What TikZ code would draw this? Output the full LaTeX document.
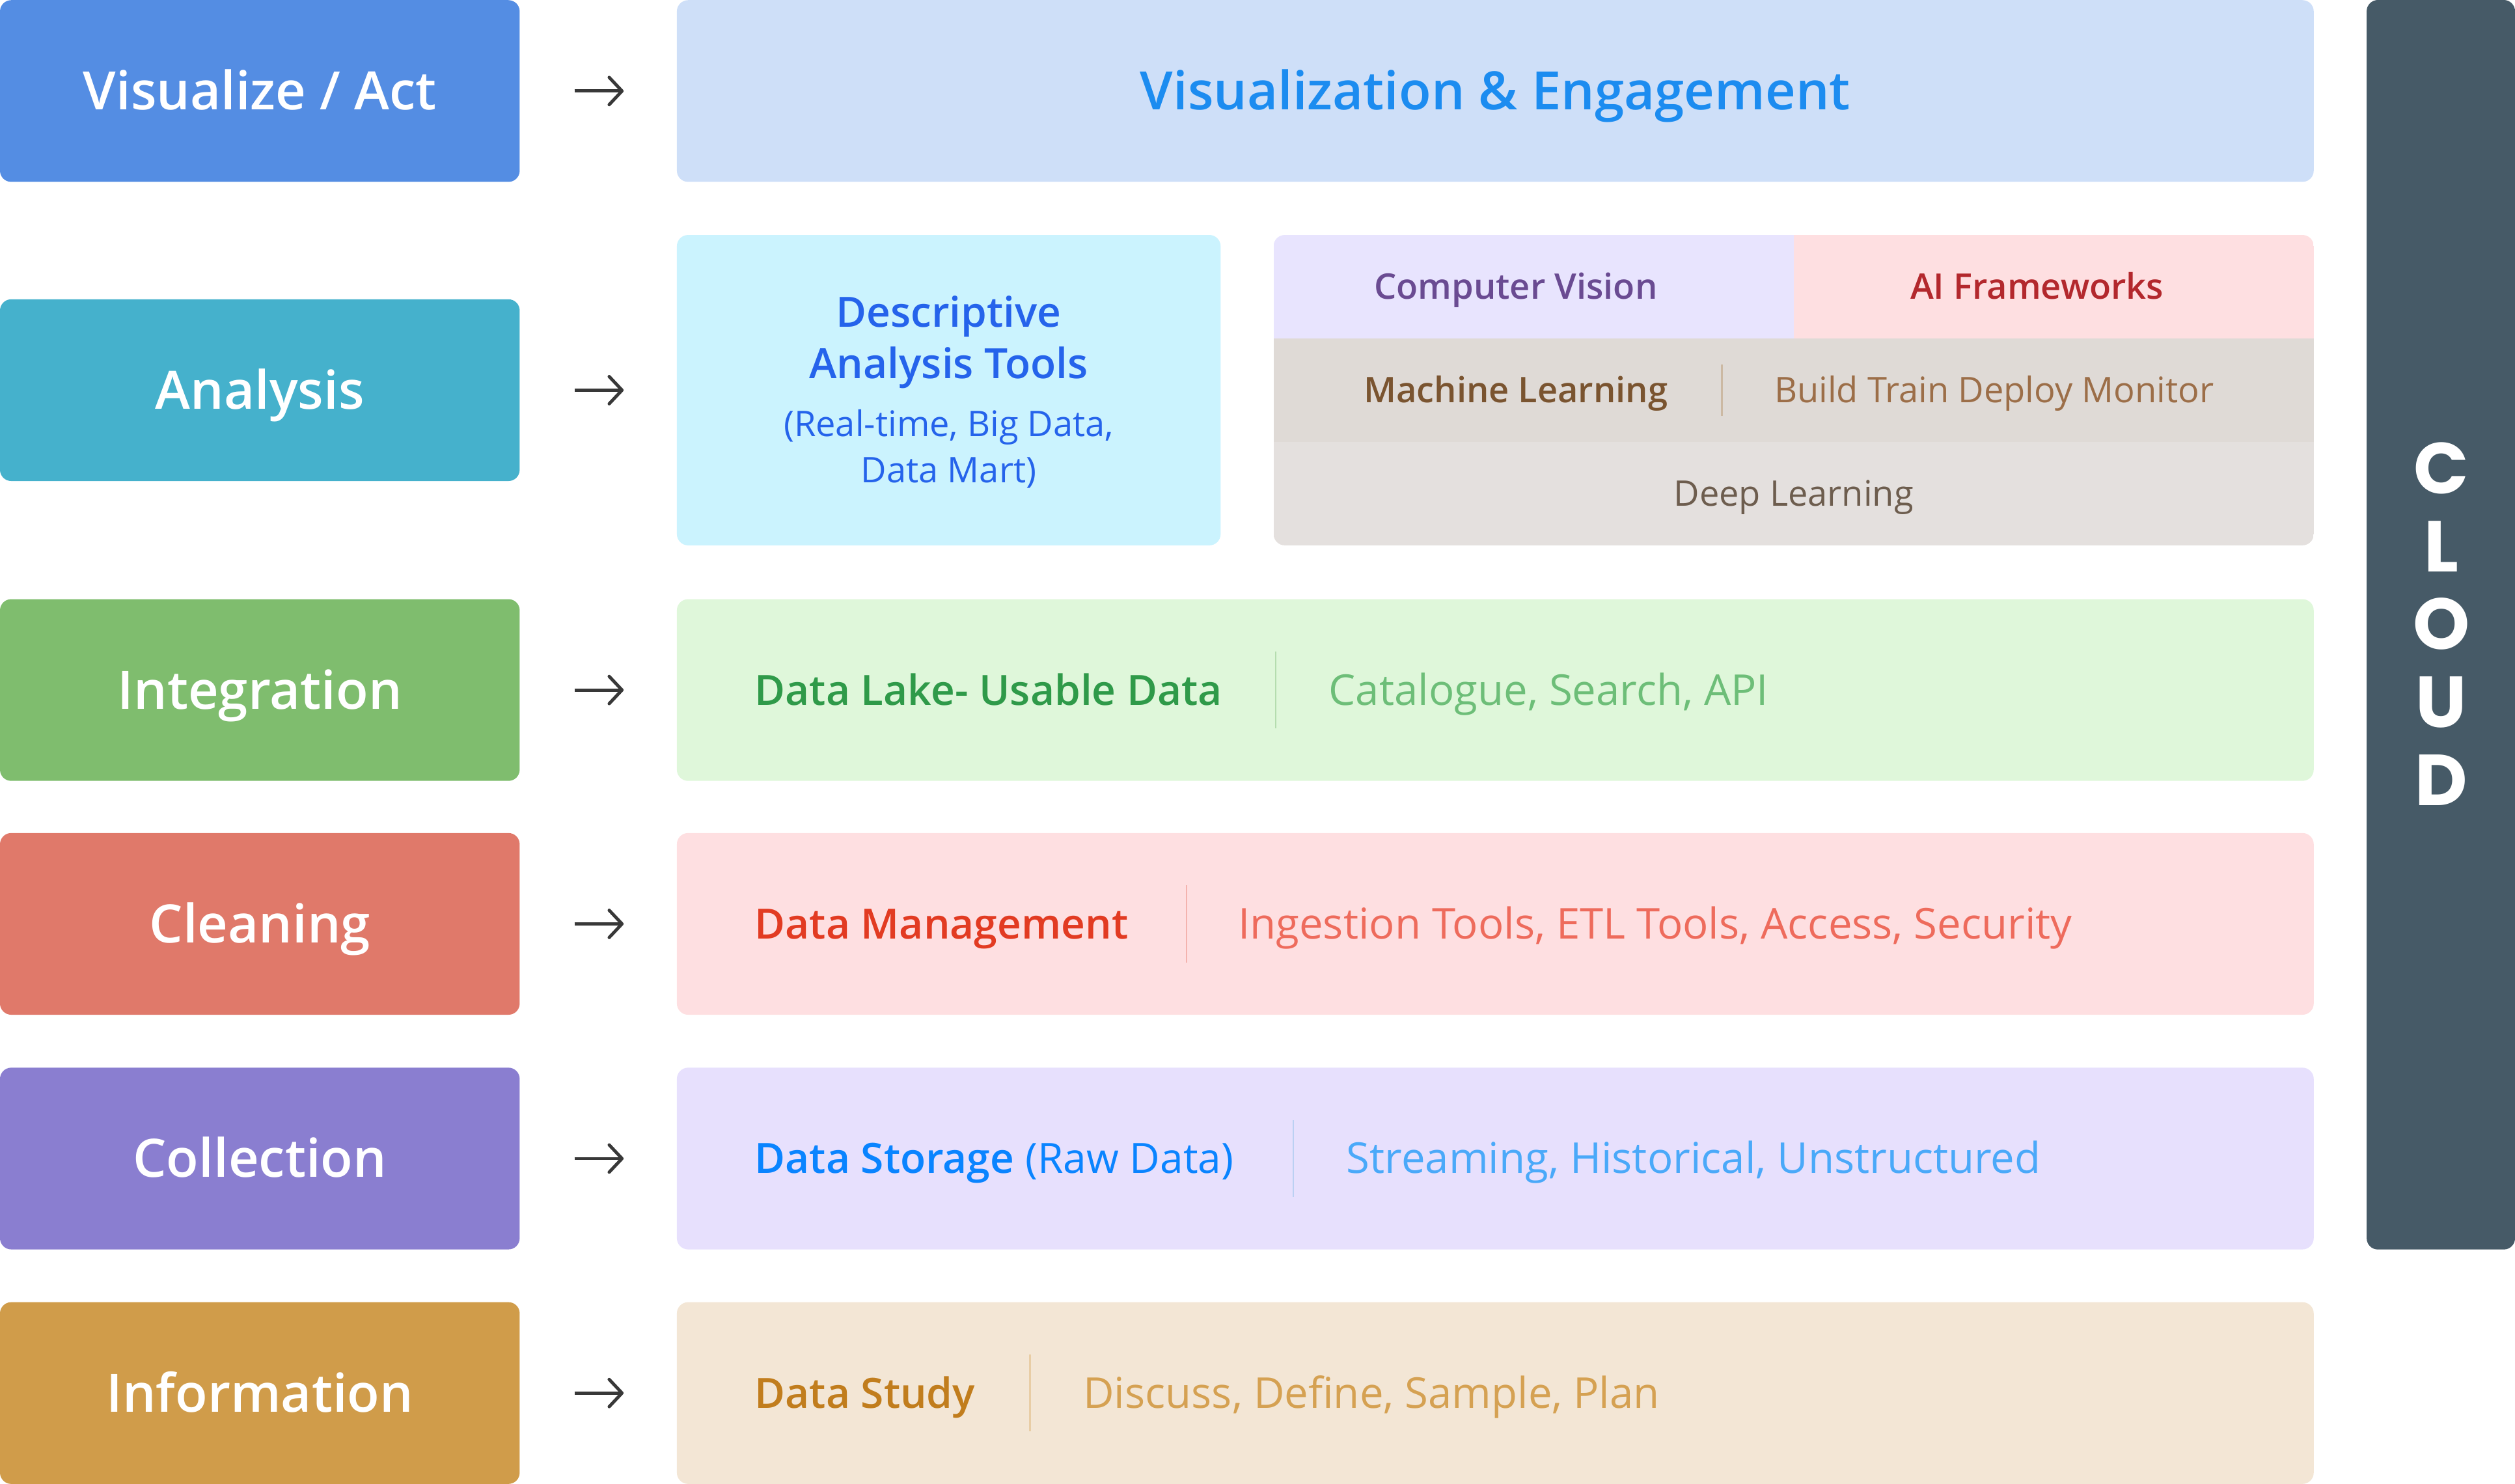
\documentclass[tikz,border=0pt]{standalone}
\usepackage{fontspec}
\IfFontExistsTF{Open Sans Semibold}
  {\setmainfont{Open Sans}[BoldFont={Open Sans Semibold}]}
  {\IfFontExistsTF{OpenSans-SemiBold.ttf}
    {\setmainfont{Open Sans}[BoldFont={OpenSans-SemiBold.ttf}]}
    {\IfFontExistsTF{OpenSans-Semibold.otf}
      {\setmainfont{Open Sans}[BoldFont={OpenSans-Semibold.otf}]}
      {\setmainfont{Open Sans}}}}
\newfontfamily\cloudfont{Poppins}
\usetikzlibrary{arrows.meta,calc}
\definecolor{visC}{HTML}{548DE3}
\definecolor{anaC}{HTML}{45B1CC}
\definecolor{intC}{HTML}{7FBD6E}
\definecolor{clnC}{HTML}{E0796A}
\definecolor{colC}{HTML}{8A7ED0}
\definecolor{infC}{HTML}{D09C4A}
\definecolor{cloudC}{HTML}{465A67}
\definecolor{arrC}{HTML}{383838}
\definecolor{visF}{HTML}{CEDFF8}\definecolor{visT}{HTML}{1C8CF0}
\definecolor{descF}{HTML}{CBF3FE}\definecolor{descT}{HTML}{2563EB}
\definecolor{cvF}{HTML}{E8E4FE}\definecolor{cvT}{HTML}{6A4B92}
\definecolor{aiF}{HTML}{FEDFE1}\definecolor{aiT}{HTML}{B3282D}
\definecolor{mlF}{HTML}{DFDAD6}\definecolor{mlT}{HTML}{7A5430}\definecolor{mlR}{HTML}{9C6E48}\definecolor{mlD}{HTML}{CCB9A3}
\definecolor{dlF}{HTML}{E4E0DE}\definecolor{dlT}{HTML}{6D5D4E}
\definecolor{lakeF}{HTML}{DFF7DA}\definecolor{lakeT}{HTML}{2F9A49}\definecolor{lakeR}{HTML}{6DBE78}\definecolor{lakeD}{HTML}{B5DDAF}
\definecolor{mgF}{HTML}{FEDFE1}\definecolor{mgT}{HTML}{E23B22}\definecolor{mgR}{HTML}{EE6B5C}\definecolor{mgD}{HTML}{F4B3AE}
\definecolor{stF}{HTML}{E7E0FD}\definecolor{stT}{HTML}{0A84FF}\definecolor{stR}{HTML}{4AA9F9}\definecolor{stD}{HTML}{BBD0F3}
\definecolor{syF}{HTML}{F3E6D5}\definecolor{syT}{HTML}{C17D1D}\definecolor{syR}{HTML}{D5A152}\definecolor{syD}{HTML}{E8CDA5}
\tikzset{
  lbox/.style={rectangle, rounded corners=7pt, minimum width=324pt, minimum height=113.3pt,
    inner sep=0pt, fill=#1, text=white, text height=23.5pt, text depth=0pt,
    font=\fontsize{33}{38}\selectfont\bfseries},
  wbox/.style={rectangle, rounded corners=7pt, minimum width=1020.5pt, minimum height=113.3pt,
    inner sep=0pt, fill=#1},
  cell/.style={rectangle, inner sep=0pt, fill=#1, minimum height=64.5pt},
  ttl/.style={inner sep=0pt, text=#1, text height=18.6pt, text depth=0pt,
    font=\fontsize{26}{31}\selectfont\bfseries},
  sub/.style={inner sep=0pt, text=#1, text height=18.6pt, text depth=0pt,
    font=\fontsize{26.5}{31}\selectfont},
  small/.style={inner sep=0pt, text=#1, text height=15.7pt, text depth=0pt,
    font=\fontsize{22}{27}\selectfont},
  smallb/.style={inner sep=0pt, text=#1, text height=15.7pt, text depth=0pt,
    font=\fontsize{22}{27}\selectfont\bfseries},
  sep/.style={draw=#1, line width=1pt},
  arr/.style={draw=arrC, line width=2pt, -{Straight Barb[length=8pt,width=17pt,round]}}
}
\begin{document}
\begin{tikzpicture}[x=1pt,y=-1pt]
\useasboundingbox (0,0) rectangle (1568,925.2);
% left column
\node[lbox=visC] (lvis) at (162,56.75) {Visualize / Act};
\node[lbox=anaC] (lana) at (162,243.25) {Analysis};
\node[lbox=intC] (lint) at (162,430.2) {Integration};
\node[lbox=clnC] (lcln) at (162,576) {Cleaning};
\node[lbox=colC] (lcol) at (162,722.3) {Collection};
\node[lbox=infC] (linf) at (162,868.5) {Information};
% right boxes
\node[wbox=visF] (rvis) at (932.25,56.75) {};
\node[ttl=visT, font=\fontsize{33}{38}\selectfont\bfseries, text height=23.5pt] (rvisT) at (932.25,56.75) {Visualization \& Engagement};
\node[wbox=lakeF] (rint) at (932.25,430.2) {};
\node[wbox=mgF] (rcln) at (932.25,576) {};
\node[wbox=stF] (rcol) at (932.25,722.3) {};
\node[wbox=syF] (rinf) at (932.25,868.5) {};
% analysis: descriptive box
\node[rectangle, rounded corners=7pt, fill=descF, minimum width=339pt, minimum height=193.5pt, inner sep=0pt] (rdesc) at (591.5,243.25) {};
\node[ttl=descT, anchor=base] (d1) at (591.5,204) {Descriptive};
\node[ttl=descT, anchor=base] (d2) at (591.5,236) {Analysis Tools};
\node[small=descT, anchor=base] (d3) at (591.5,272) {(Real-time, Big Data,};
\node[small=descT, anchor=base] (d4) at (591.5,300.7) {Data Mart)};
% analysis: ML composite
\begin{scope}
\clip[rounded corners=7pt] (794,146.5) rectangle (1442.5,340);
\node[cell=cvF, minimum width=324.5pt] (cv) at (956.25,178.75) {};
\node[cell=aiF, minimum width=324pt] (ai) at (1280.5,178.75) {};
\node[cell=mlF, minimum width=648.5pt] (ml) at (1118.25,243.25) {};
\node[cell=dlF, minimum width=648.5pt] (dl) at (1118.25,307.75) {};
\end{scope}
\node[smallb=cvT] (cvt) at (945,178.75) {Computer Vision};
\node[smallb=aiT] (ait) at (1270,178.75) {AI Frameworks};
\node[smallb=mlT, anchor=east] (mlt) at (1040,243.25) {Machine Learning};
\coordinate (mld) at ($(mlt.east)+(33.6,0)$);
\draw[sep=mlD] ([yshift=16pt]mld) -- ([yshift=-16pt]mld);
\node[small=mlR, anchor=west] (mlr) at ($(mld)+(32.4,0)$) {Build Train Deploy Monitor};
\node[small=dlT] (dlt) at (1118.25,307.75) {Deep Learning};
% row texts
\node[ttl=lakeT, anchor=west] (lakeL) at (470.4,430.2) {Data Lake- Usable Data};
\coordinate (lakeD) at ($(lakeL.east)+(33,0)$);
\draw[sep=lakeD] ([yshift=24pt]lakeD) -- ([yshift=-24pt]lakeD);
\node[sub=lakeR, anchor=west] (lakeRt) at ($(lakeD)+(33,0)$) {Catalogue, Search, API};
\node[ttl=mgT, anchor=west] (mgL) at (470.4,576) {Data Management};
\coordinate (mgD) at ($(mgL.east)+(36,0)$);
\draw[sep=mgD] ([yshift=24pt]mgD) -- ([yshift=-24pt]mgD);
\node[sub=mgR, anchor=west] (mgRt) at ($(mgD)+(32,0)$) {Ingestion Tools, ETL Tools, Access, Security};
\node[ttl=stT, anchor=west] (stL) at (470.4,722.3) {Data Storage \mdseries(Raw Data)};
\coordinate (stD) at ($(stL.east)+(37,0)$);
\draw[sep=stD] ([yshift=24pt]stD) -- ([yshift=-24pt]stD);
\node[sub=stR, anchor=west] (stRt) at ($(stD)+(33,0)$) {Streaming, Historical, Unstructured};
\node[ttl=syT, anchor=west] (syL) at (470.4,868.5) {Data Study};
\coordinate (syD) at ($(syL.east)+(34,0)$);
\draw[sep=syD] ([yshift=24pt]syD) -- ([yshift=-24pt]syD);
\node[sub=syR, anchor=west] (syRt) at ($(syD)+(33,0)$) {Discuss, Define, Sample, Plan};
% cloud
\node[rectangle, rounded corners=7pt, fill=cloudC, minimum width=92.5pt, minimum height=779pt, inner sep=0pt] (cloud) at (1521.75,389.5) {};
\node[text=white, align=center, inner sep=0pt, font=\cloudfont\fontsize{45}{48.5}\selectfont\bfseries] (cloudT) at (1522,389) {C\\L\\O\\U\\D};
% arrows
\draw[arr] ([xshift=34pt]lvis.east) -- ([xshift=-33pt]rvis.west);
\draw[arr] ([xshift=34pt]lana.east) -- ([xshift=-33pt]rdesc.west);
\draw[arr] ([xshift=34pt]lint.east) -- ([xshift=-33pt]rint.west);
\draw[arr] ([xshift=34pt]lcln.east) -- ([xshift=-33pt]rcln.west);
\draw[arr] ([xshift=34pt]lcol.east) -- ([xshift=-33pt]rcol.west);
\draw[arr] ([xshift=34pt]linf.east) -- ([xshift=-33pt]rinf.west);
\end{tikzpicture}
\end{document}
